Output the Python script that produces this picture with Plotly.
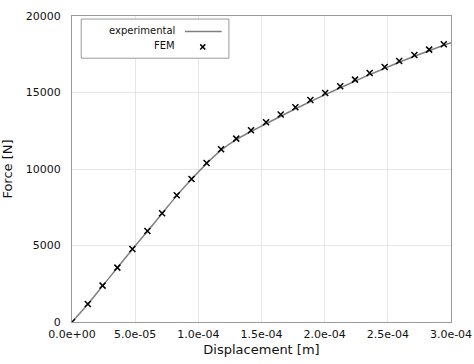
import plotly.graph_objects as go

# Data
fem_disp = [0.0, 1.25e-5, 2.42e-5, 3.59e-5, 4.78e-5, 5.97e-5, 7.13e-5, 8.29e-5, 9.46e-5,
            1.065e-4, 1.18e-4, 1.30e-4, 1.417e-4, 1.536e-4, 1.652e-4, 1.768e-4, 1.887e-4,
            2.004e-4, 2.123e-4, 2.24e-4, 2.356e-4, 2.475e-4, 2.59e-4, 2.71e-4, 2.827e-4, 2.943e-4]
fem_force = [0, 1176, 2379, 3555, 4771, 5948, 7105, 8281, 9350,
             10392, 11288, 11987, 12529, 13052, 13556, 14033, 14510,
             14967, 15405, 15843, 16275, 16667, 17059, 17451, 17804, 18150]

exp_disp = [0.0, 1.25e-5, 2.42e-5, 3.59e-5, 4.78e-5, 5.97e-5, 7.13e-5, 8.29e-5, 9.46e-5,
            1.065e-4, 1.18e-4, 1.30e-4, 1.417e-4, 1.536e-4, 1.652e-4, 1.768e-4, 1.887e-4,
            2.004e-4, 2.123e-4, 2.24e-4, 2.356e-4, 2.475e-4, 2.59e-4, 2.71e-4, 2.827e-4, 2.943e-4, 3.0e-4]
exp_force = [0, 1160, 2360, 3540, 4760, 5930, 7090, 8260, 9330,
             10350, 11230, 11920, 12450, 12960, 13450, 13930, 14400,
             14860, 15300, 15740, 16170, 16580, 16980, 17370, 17730, 18090, 18260]

x_tickvals = [0, 5e-5, 1e-4, 1.5e-4, 2e-4, 2.5e-4, 3e-4]
x_ticktext = ["0.0e+00", "5.0e-05", "1.0e-04", "1.5e-04", "2.0e-04", "2.5e-04", "3.0e-04"]
y_tickvals = [0, 5000, 10000, 15000, 20000]
y_ticktext = ["0", "5000", "10000", "15000", "20000"]

font_family = "DejaVu Sans"
text_color = "#111"

fig = go.Figure()
fig.add_trace(go.Scatter(
    x=exp_disp, y=exp_force, mode="lines", name="experimental",
    line=dict(color="#808080", width=1.5, shape="spline", smoothing=0.6),
    showlegend=False,
))
fig.add_trace(go.Scatter(
    x=fem_disp, y=fem_force, mode="markers", name="FEM",
    marker=dict(symbol="x-thin", size=6, line=dict(color="black", width=1.5), color="black"),
    showlegend=False,
))

# custom gnuplot-style legend (text left, symbol right)
mx, my, dx, dy = 0.345, 0.899, 0.0066, 0.0082
shapes = [
    dict(type="rect", xref="paper", yref="paper", x0=0.0243, x1=0.414, y0=0.862, y1=0.990,
         line=dict(color="#9a9a9a", width=1), fillcolor="white", layer="above"),
    dict(type="line", xref="paper", yref="paper", x0=0.298, x1=0.395, y0=0.949, y1=0.949,
         line=dict(color="#808080", width=1.5), layer="above"),
    dict(type="line", xref="paper", yref="paper", x0=mx - dx, x1=mx + dx,
         y0=my - dy, y1=my + dy, line=dict(color="black", width=1.5), layer="above"),
    dict(type="line", xref="paper", yref="paper", x0=mx - dx, x1=mx + dx,
         y0=my + dy, y1=my - dy, line=dict(color="black", width=1.5), layer="above"),
]
annotations = [
    dict(text="experimental", xref="paper", yref="paper", x=0.276, y=0.952, xanchor="right",
         yanchor="middle", showarrow=False, font=dict(family=font_family, size=10, color=text_color)),
    dict(text="FEM", xref="paper", yref="paper", x=0.276, y=0.905, xanchor="right",
         yanchor="middle", showarrow=False, font=dict(family=font_family, size=10, color=text_color)),
]

fig.update_layout(
    width=474, height=364,
    margin=dict(l=72, r=23, t=16, b=42, pad=0, autoexpand=False),
    paper_bgcolor="white", plot_bgcolor="white",
    font=dict(family=font_family, size=11, color=text_color),
    shapes=shapes, annotations=annotations,
    xaxis=dict(
        range=[0, 3e-4], tickvals=x_tickvals, ticktext=x_ticktext,
        showgrid=True, gridcolor="#e6e6e6", gridwidth=1,
        showline=True, linecolor="#9a9a9a", linewidth=1, mirror=True,
        ticks="outside", ticklen=2, tickcolor="white", zeroline=False, automargin=False,
        title=dict(text="Displacement [m]", font=dict(size=13, family=font_family, color=text_color), standoff=4),
        tickfont=dict(size=11, family=font_family, color=text_color),
    ),
    yaxis=dict(
        range=[0, 20000], tickvals=y_tickvals, ticktext=y_ticktext,
        showgrid=True, gridcolor="#e6e6e6", gridwidth=1,
        showline=True, linecolor="#9a9a9a", linewidth=1, mirror=True,
        ticks="outside", ticklen=8, tickcolor="white", zeroline=False, automargin=False,
        title=dict(text="Force [N]", font=dict(size=13, family=font_family, color=text_color), standoff=14),
        tickfont=dict(size=11, family=font_family, color=text_color),
    ),
)

fig.write_html("out.html", config={"displayModeBar": False},
               post_script="document.body.style.margin='0';document.body.style.overflow='hidden';")
